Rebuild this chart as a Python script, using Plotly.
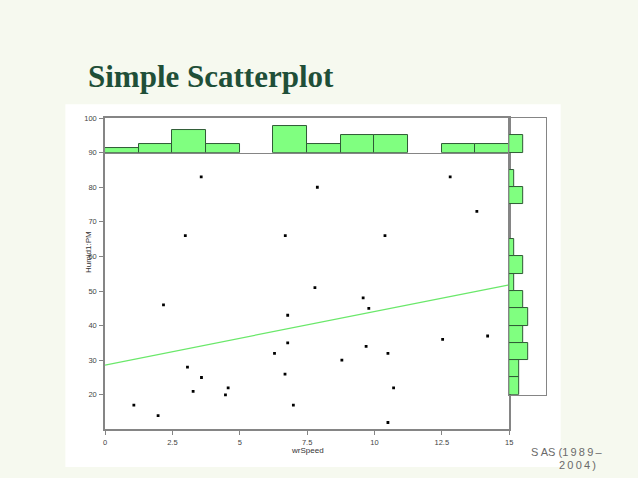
import plotly.graph_objects as go

# ---- data ----
wr_speed = [3.57, 2.98, 6.69, 7.88, 12.81, 13.80, 10.39, 2.17, 6.78, 6.29,
            6.78, 3.06, 3.58, 3.27, 4.57, 4.47, 6.68, 6.99, 1.07, 1.97,
            7.79, 9.58, 9.79, 14.20, 12.53, 9.69, 10.50, 8.79, 10.71, 10.50]
humid_pm = [83, 66, 66, 80, 83, 73, 66, 46, 43, 32,
            35, 28, 25, 21, 22, 20, 26, 17, 17, 14,
            51, 48, 45, 37, 36, 34, 32, 30, 22, 12]
fit_x = [0, 15]
fit_y = [28.6, 51.8]
x_ticks = [0, 2.5, 5, 7.5, 10, 12.5, 15]
x_tick_labels = ["0", "2.5", "5", "7.5", "10", "12.5", "15"]
y_ticks = [20, 30, 40, 50, 60, 70, 80, 90, 100]
y_tick_labels = ["20", "30", "40", "50", "60", "70", "80", "90", "100"]

W, H = 638, 478
def px(x):
    return x / W
def py(y):
    return (H - y) / H

AX = "#858585"
BAR = "#80ff80"
BAR_LINE = "#2f5a35"
TICKFONT = dict(family="Arial, Liberation Sans, sans-serif", size=7.5, color="#444444")
TS = "\u2009"  # thin space for the letter-spaced credit text

fig = go.Figure()

fig.add_trace(go.Scatter(x=fit_x, y=fit_y, mode="lines",
                         line=dict(color="#6ae86a", width=1.2),
                         xaxis="x", yaxis="y", hoverinfo="skip"))
fig.add_trace(go.Scatter(x=wr_speed, y=humid_pm, mode="markers",
                         marker=dict(symbol="square", size=2.8, color="black"),
                         xaxis="x", yaxis="y"))
fig.add_trace(go.Histogram(x=wr_speed, xbins=dict(start=0, end=15, size=1.25),
                           marker=dict(color=BAR, line=dict(color=BAR_LINE, width=1)),
                           xaxis="x2", yaxis="y2"))
fig.add_trace(go.Histogram(y=humid_pm, ybins=dict(start=10, end=90, size=5),
                           marker=dict(color=BAR, line=dict(color=BAR_LINE, width=1)),
                           xaxis="x3", yaxis="y3"))

fig.update_layout(
    width=W, height=H,
    margin=dict(l=0, r=0, t=0, b=0),
    paper_bgcolor="#f6f9ef",
    plot_bgcolor="rgba(0,0,0,0)",
    showlegend=False,
    hovermode=False,
    bargap=0,
    xaxis=dict(domain=[px(104), px(512)], range=[0, 15], anchor="y",
               tickvals=x_ticks, ticktext=x_tick_labels, ticks="outside",
               ticklen=4, tickwidth=1, tickcolor=AX, tickfont=TICKFONT,
               showline=True, linecolor=AX, linewidth=1.5, mirror=True,
               showgrid=False, zeroline=False, ticklabelstandoff=1),
    yaxis=dict(domain=[py(429), py(115)], range=[10, 100], anchor="x",
               tickvals=y_ticks, ticktext=y_tick_labels, ticks="outside",
               ticklen=4, tickwidth=1, tickcolor=AX, tickfont=TICKFONT,
               showline=True, linecolor=AX, linewidth=1.5, mirror=True,
               showgrid=False, zeroline=False, ticklabelstandoff=1),
    xaxis2=dict(domain=[px(104), px(512)], range=[0, 15], anchor="y2",
                showticklabels=False, ticks="", showgrid=False, zeroline=False,
                showline=True, linecolor=AX, linewidth=1.2),
    yaxis2=dict(domain=[py(150), py(115)], range=[0, 7.8], anchor="x2",
                showticklabels=False, ticks="", showgrid=False, zeroline=False,
                showline=False),
    xaxis3=dict(domain=[px(512), px(549)], range=[0, 7.7], anchor="y3",
                showticklabels=False, ticks="", showgrid=False, zeroline=False,
                showline=True, linecolor=AX, linewidth=1.2, mirror=True),
    yaxis3=dict(domain=[py(394), py(115)], range=[10, 90], anchor="x3",
                showticklabels=False, ticks="", showgrid=False, zeroline=False,
                showline=True, linecolor=AX, linewidth=1.2, mirror=True),
    shapes=[dict(type="rect", xref="paper", yref="paper",
                 x0=px(64), x1=px(564), y0=py(467), y1=py(101),
                 fillcolor="white", line=dict(width=0), layer="below")],
    annotations=[
        dict(text="<b>Simple Scatterplot</b>", xref="paper", yref="paper",
             x=px(85), y=py(73), xanchor="left", yanchor="middle", showarrow=False,
             font=dict(family="Times New Roman, Liberation Serif, serif", size=31,
                       color="#1f4f38")),
        dict(text="wrSpeed", xref="paper", yref="paper", x=px(308), y=py(450),
             xanchor="center", yanchor="middle", showarrow=False,
             font=dict(family="Arial, Liberation Sans, sans-serif", size=8, color="#333333")),
        dict(text="Humid1:PM", xref="paper", yref="paper", x=px(88), y=py(250),
             xanchor="center", yanchor="middle", showarrow=False, textangle=-90,
             font=dict(family="Arial, Liberation Sans, sans-serif", size=8, color="#333333")),
        dict(text="S AS (" + TS.join("1989–"), xref="paper", yref="paper",
             x=px(608), y=py(452),
             xanchor="right", yanchor="middle", showarrow=False,
             font=dict(family="Arial, Liberation Sans, sans-serif", size=11, color="#6a6a6a")),
        dict(text=TS.join("2004)"), xref="paper", yref="paper", x=px(602), y=py(465),
             xanchor="right", yanchor="middle", showarrow=False,
             font=dict(family="Arial, Liberation Sans, sans-serif", size=11, color="#6a6a6a")),
    ],
)

fig.write_html("out.html", config={"displayModeBar": False, "responsive": False},
               post_script="document.documentElement.style.margin='0';"
                           "document.body.style.margin='0';"
                           "document.body.style.padding='0';"
                           "document.body.style.overflow='hidden';")
